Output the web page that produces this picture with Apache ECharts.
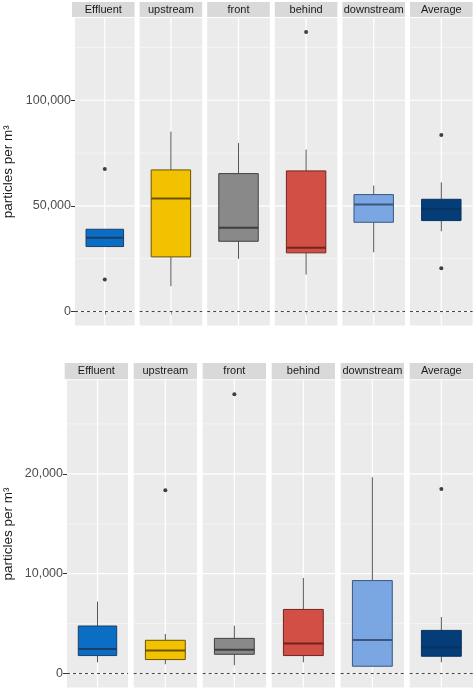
<!DOCTYPE html>
<html>
<head>
<meta charset="utf-8">
<script src="https://cdn.jsdelivr.net/npm/echarts@6/dist/echarts.min.js"></script>
<style>html,body{margin:0;padding:0;background:#fff}#c{width:474px;height:692px}</style>
</head>
<body>
<div id="c"></div>
<script>
const categories = ['Effluent', 'upstream', 'front', 'behind', 'downstream', 'Average'];

// Top panel (particles per m3)
const topMin = [30750, 11970, 24930, 17500, 28050, 37980];
const topQ1  = [30750, 25870, 33250, 27770, 42240, 43040];
const topMed = [34860, 53450, 39590, 30130, 50610, 48500];
const topQ3  = [38930, 67020, 65270, 66550, 55340, 53120];
const topMax = [38930, 85140, 79800, 76630, 59600, 61160];
const topOutliers = [[67500, 15140], [], [], [132300], [], [83580, 20480]];
const topMajorTicks = [0, 50000, 100000];
const topMinorTicks = [25000, 75000, 125000];

// Bottom panel
const botMin = [1130, 930, 830, 1130, 730, 1130];
const botQ1  = [1800, 1400, 1930, 1800, 730, 1730];
const botMed = [2460, 2300, 2370, 3020, 3360, 2600];
const botQ3  = [4760, 3330, 3520, 6420, 9310, 4320];
const botMax = [7190, 3960, 4790, 9580, 19660, 5660];
const botOutliers = [[], [18360], [27970], [], [], [18490]];
const botMajorTicks = [0, 10000, 20000];
const botMinorTicks = [5000, 15000, 25000];

const fills   = ['#0a6fc4', '#f2c200', '#898989', '#d24f45', '#7aa6e2', '#043d78'];
const strokes = ['#1d3d66', '#6b5200', '#3f3f3f', '#6e2520', '#3b5680', '#06335f'];

const FONT = "'Liberation Sans', Arial, sans-serif";
const chart = echarts.init(document.getElementById('c'), null, {renderer: 'canvas'});

function fmt(v) { return Math.round(v).toString().replace(/\B(?=(\d{3})+(?!\d))/g, ','); }

const rows = [
  {min: topMin, q1: topQ1, med: topMed, q3: topQ3, max: topMax, out: topOutliers,
   major: topMajorTicks, minor: topMinorTicks,
   left0: 72, step: 67.6, width: 62.6, top: 18, height: 307.5, stripTop: 2, nameGap: 60},
  {min: botMin, q1: botQ1, med: botMed, q3: botQ3, max: botMax, out: botOutliers,
   major: botMajorTicks, minor: botMinorTicks,
   left0: 64.7, step: 69, width: 63.3, top: 380.3, height: 307.2, stripTop: 363, nameGap: 52}
];

const grids = [], xAxes = [], yAxes = [], series = [], graphics = [];
let gi = 0;
rows.forEach((r) => {
  let hi = 0;
  r.max.forEach(v => { hi = Math.max(hi, v); });
  r.out.forEach(a => a.forEach(v => { hi = Math.max(hi, v); }));
  const lo = 0;
  const pad = (hi - lo) * 0.05;
  const ymin = lo - pad, ymax = hi + pad;

  categories.forEach((cat, i) => {
    const left = r.left0 + i * r.step;
    grids.push({left: left, top: r.top, width: r.width, height: r.height,
      show: true, backgroundColor: '#ebebeb', borderWidth: 0, containLabel: false});
    xAxes.push({type: 'category', gridIndex: gi, data: [cat], boundaryGap: true,
      axisLine: {show: false}, axisLabel: {show: false},
      axisTick: {show: true, alignWithLabel: true, length: 3, lineStyle: {color: '#333', width: 1}},
      splitLine: {show: false}});
    const first = i === 0;
    yAxes.push({type: 'value', gridIndex: gi, min: ymin, max: ymax,
      axisLine: {show: false}, splitLine: {show: false},
      axisTick: first ? {show: true, length: 4, customValues: r.major, lineStyle: {color: '#333'}} : {show: false},
      axisLabel: first ? {show: true, customValues: r.major, formatter: fmt, color: '#4d4d4d',
        fontSize: 12.5, fontFamily: FONT, margin: 4} : {show: false},
      name: first ? 'particles per m³' : '', nameLocation: 'middle', nameGap: r.nameGap,
      nameTextStyle: {color: '#1a1a1a', fontSize: 13.5, fontFamily: FONT}});

    // minor gridlines
    series.push({type: 'custom', xAxisIndex: gi, yAxisIndex: gi, z: 1, silent: true,
      data: r.minor.map(v => [0, v]),
      renderItem: (params, api) => {
        const cs = params.coordSys;
        const y = api.coord([0, api.value(1)])[1];
        return {type: 'line', shape: {x1: cs.x, y1: y, x2: cs.x + cs.width, y2: y},
          style: {stroke: '#fafafa', lineWidth: 0.6}};
      }});
    // major gridlines
    series.push({type: 'custom', xAxisIndex: gi, yAxisIndex: gi, z: 1, silent: true,
      data: r.major.map(v => [0, v]),
      renderItem: (params, api) => {
        const cs = params.coordSys;
        const y = api.coord([0, api.value(1)])[1];
        return {type: 'line', shape: {x1: cs.x, y1: y, x2: cs.x + cs.width, y2: y},
          style: {stroke: '#ffffff', lineWidth: 1.2}};
      }});
    // vertical gridline at category
    series.push({type: 'custom', xAxisIndex: gi, yAxisIndex: gi, z: 1, silent: true,
      data: [[0, 0]],
      renderItem: (params, api) => {
        const cs = params.coordSys;
        const x = api.coord([api.value(0), 0])[0];
        return {type: 'line', shape: {x1: x, y1: cs.y, x2: x, y2: cs.y + cs.height},
          style: {stroke: '#ffffff', lineWidth: 1.2}};
      }});
    // dashed zero line
    series.push({type: 'custom', xAxisIndex: gi, yAxisIndex: gi, z: 2, silent: true,
      data: [[0, 0]],
      renderItem: (params, api) => {
        const cs = params.coordSys;
        const y = api.coord([0, api.value(1)])[1];
        return {type: 'line', shape: {x1: cs.x, y1: y, x2: cs.x + cs.width, y2: y},
          style: {stroke: '#444', lineWidth: 1, lineDash: [3, 3]}};
      }});
    // box
    const fill = fills[i], stroke = strokes[i];
    series.push({type: 'custom', xAxisIndex: gi, yAxisIndex: gi, z: 3, silent: true,
      data: [[0, r.min[i], r.q1[i], r.med[i], r.q3[i], r.max[i]]],
      encode: {x: 0, y: [1, 2, 3, 4, 5]},
      renderItem: (params, api) => {
        const c = api.value(0);
        const x = api.coord([c, 0])[0];
        const yMin = api.coord([c, api.value(1)])[1];
        const yQ1 = api.coord([c, api.value(2)])[1];
        const yMed = api.coord([c, api.value(3)])[1];
        const yQ3 = api.coord([c, api.value(4)])[1];
        const yMax = api.coord([c, api.value(5)])[1];
        const hw = api.size([1, 0])[0] * 0.315;
        return {type: 'group', children: [
          {type: 'line', shape: {x1: x, y1: yMax, x2: x, y2: yQ3}, style: {stroke: '#555', lineWidth: 1}},
          {type: 'line', shape: {x1: x, y1: yQ1, x2: x, y2: yMin}, style: {stroke: '#555', lineWidth: 1}},
          {type: 'rect', shape: {x: x - hw, y: yQ3, width: 2 * hw, height: yQ1 - yQ3},
            style: {fill: fill, stroke: stroke, lineWidth: 1}},
          {type: 'line', shape: {x1: x - hw, y1: yMed, x2: x + hw, y2: yMed},
            style: {stroke: stroke, lineWidth: 2}}
        ]};
      }});
    // outliers
    series.push({type: 'scatter', xAxisIndex: gi, yAxisIndex: gi, z: 4, silent: true,
      symbol: 'circle', symbolSize: 4, itemStyle: {color: '#111'},
      data: r.out[i].map(v => [0, v])});

    // strip
    graphics.push({type: 'rect', shape: {x: left, y: r.stripTop, width: r.width, height: r.top - r.stripTop - 1},
      style: {fill: '#d9d9d9'}, silent: true});
    graphics.push({type: 'text', x: left + r.width / 2, y: r.stripTop + (r.top - r.stripTop - 1) / 2,
      style: {text: cat, fill: '#1a1a1a', font: '11px ' + FONT, textAlign: 'center', textVerticalAlign: 'middle'},
      silent: true});
    gi++;
  });
});

chart.setOption({
  animation: false,
  backgroundColor: '#ffffff',
  grid: grids, xAxis: xAxes, yAxis: yAxes, series: series, graphic: graphics
});
</script>
</body>
</html>
